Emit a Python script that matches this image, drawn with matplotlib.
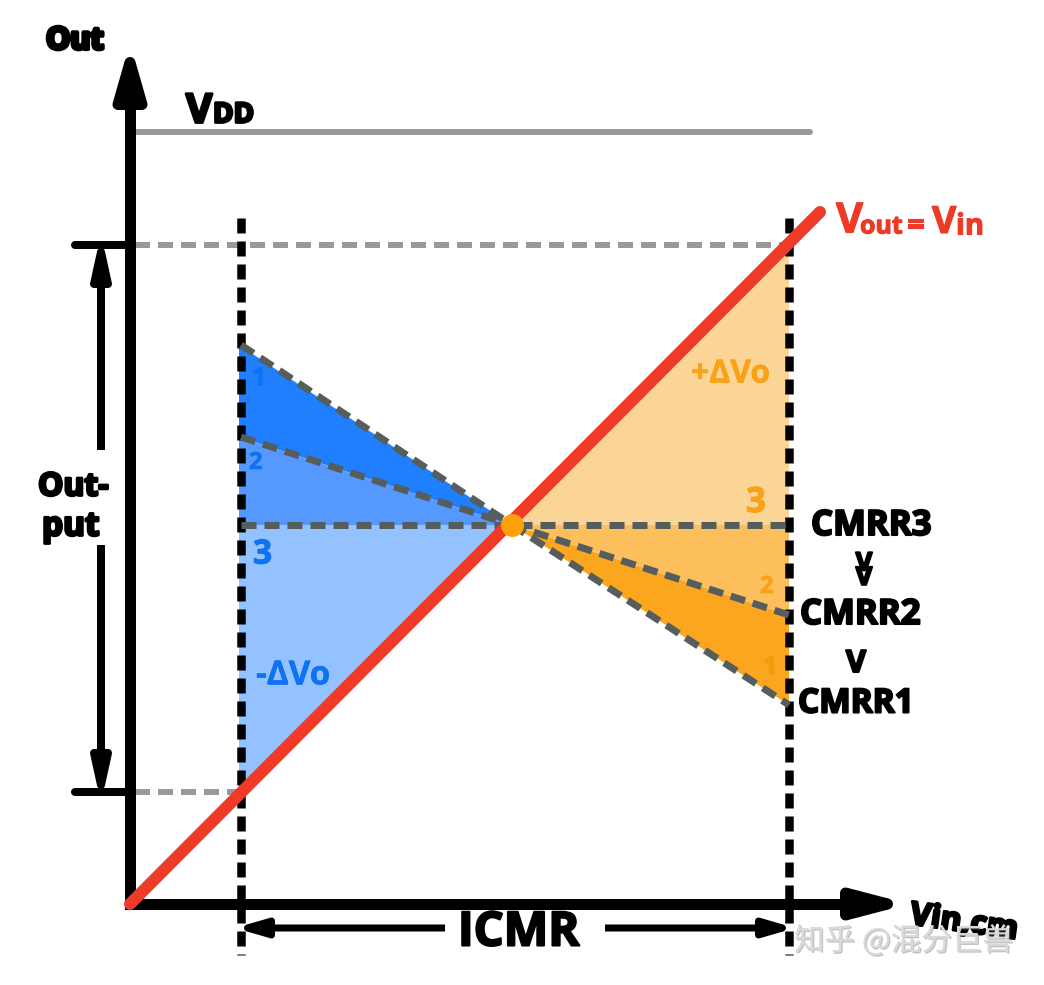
import math
import matplotlib
matplotlib.use("Agg")
import matplotlib.pyplot as plt
import matplotlib.patheffects as pe

# everything in image pixels (y goes down)
origin = (130, 904)
center = (512, 525)
icmr_x = [241, 789]
output_y = [245, 792]
vdd_y = 132
red_end = (820, 212)

# where the three CMRR lines hit the ICMR edges
left_y = [345, 437, 525]
right_y = [705, 615, 525]

blue_colors = ["#1f7fff", "#5599ff", "#94c2ff"]
orange_colors = ["#fca51f", "#fdbe5c", "#fbd596"]

BLACK = "#000000"
GRAY = "#999999"
DARK = "#555e5c"
RED = "#ee3a26"
BLUE = "#0f72f2"
ORANGE = "#f9a215"


def px(w):
    return w * 0.72


def dash(on, off, w):
    return (on / w, off / w)


def arrow(ax, start, end, lw, length, half):
    # matplotlib pulls the head back so a mitred tip lands on the point, push it out again
    sin_t = half / math.hypot(length, half)
    pull = 0.5 * lw / sin_t - 0.5 * lw
    dx, dy = end[0] - start[0], end[1] - start[1]
    dist = math.hypot(dx, dy)
    tip = (end[0] + dx / dist * pull, end[1] + dy / dist * pull)
    style = f"-|>,head_length={px(length)},head_width={px(half)}"
    ax.annotate("", xy=tip, xytext=start,
                arrowprops=dict(arrowstyle=style, mutation_scale=1, lw=px(lw), color=BLACK,
                                shrinkA=0, shrinkB=0, joinstyle="round", capstyle="butt"),
                zorder=8)


def label(ax, x, y, s, size, color=BLACK, stroke=1.5, rot=0, ha="left", **kw):
    t = ax.text(x, y, s, fontsize=size, color=color, fontweight="bold", ha=ha, va="center",
                family="Open Sans", rotation=rot, zorder=9, **kw)
    t.set_path_effects([pe.withStroke(linewidth=stroke, foreground=color)])
    return t


fig = plt.figure(figsize=(10.44, 9.85), dpi=100)
ax = fig.add_axes([0, 0, 1, 1])
ax.set_xlim(0, 1044)
ax.set_ylim(985, 0)
ax.axis("off")

# shaded wedges
left_edges = left_y + [output_y[1]]
right_edges = right_y + [output_y[0]]
for i in range(3):
    ax.fill([icmr_x[0] - 2, center[0], icmr_x[0] - 2], [left_edges[i], center[1], left_edges[i + 1]],
            color=blue_colors[i], lw=0, zorder=1)
    ax.fill([center[0], icmr_x[1], icmr_x[1]], [center[1], right_edges[i], right_edges[i + 1]],
            color=orange_colors[i], lw=0, zorder=1)

# grey guide lines
ax.plot([135, 810], [vdd_y, vdd_y], color=GRAY, lw=px(6), solid_capstyle="round", zorder=2)
ax.plot([135, icmr_x[1]], [output_y[0]] * 2, color=GRAY, lw=px(6), dashes=dash(15, 8, 6), zorder=2)
ax.plot([135, icmr_x[0]], [output_y[1]] * 2, color=GRAY, lw=px(6), dashes=dash(15, 8, 6), zorder=2)

# CMRR dashed lines
gray_dash = dash(15, 8, 7)
for y in left_y[:2]:
    ax.plot([icmr_x[0], center[0]], [y, center[1]], color=DARK, lw=px(7), dashes=gray_dash, zorder=5)
for y in right_y[:2]:
    ax.plot([center[0], icmr_x[1]], [center[1], y], color=DARK, lw=px(7), dashes=gray_dash, zorder=5)
ax.plot(icmr_x, [center[1]] * 2, color=DARK, lw=px(7), dashes=gray_dash, zorder=5)

# ICMR edges
for x in icmr_x:
    ax.plot([x, x], [218, 955], color=BLACK, lw=px(8.5), dashes=dash(15, 8, 8.5), zorder=3)

# Vout = Vin
ax.plot([origin[0], red_end[0]], [origin[1], red_end[1]], color=RED, lw=px(12),
        solid_capstyle="round", zorder=7.5)
ax.plot(center[0], center[1], "o", color="#ff9f0a", ms=px(23), mew=0, zorder=7.6)

# axes
ax.plot([origin[0], origin[0]], [origin[1], 100], color=BLACK, lw=px(11), zorder=7)
ax.plot([origin[0], 850], [origin[1], origin[1]], color=BLACK, lw=px(11), zorder=7)
arrow(ax, (origin[0], 110), (origin[0], 57), 11, 42, 12)
arrow(ax, (840, origin[1]), (893, origin[1]), 11, 42, 11)

# output swing marks
for y in output_y:
    ax.plot([75, origin[0]], [y, y], color=BLACK, lw=px(8), solid_capstyle="round", zorder=7)
arrow(ax, (101, 450), (101, output_y[0] + 3), 8, 32, 7)
arrow(ax, (101, 545), (101, output_y[1] - 3), 8, 32, 7)

# ICMR span
arrow(ax, (445, 928), (icmr_x[0] + 3, 928), 7, 24, 7)
arrow(ax, (605, 928), (icmr_x[1] - 3, 928), 7, 24, 7)

# text
label(ax, 46, 41, "Out", 22, stroke=3)
label(ax, 186, 112, "V", 29, stroke=2)
label(ax, 213, 115, "DD", 20, stroke=2)
label(ax, 836, 222, "V", 30, color=RED, stroke=0.8)
label(ax, 860, 227, "out", 18, color=RED, stroke=0.8)
label(ax, 907, 226, "=", 22, color=RED, stroke=0.8)
label(ax, 932, 223, "V", 27, color=RED, stroke=0.8)
label(ax, 956, 227, "in", 21, color=RED, stroke=0.8)
label(ax, 38, 487, "Out-", 23, stroke=2)
label(ax, 42, 527, "put", 24, stroke=2)
label(ax, 811, 526, "CMRR3", 25, stroke=1.5)
label(ax, 864, 571, "V\nV", 18, stroke=1.5, ha="center", linespacing=0.45, multialignment="center")
label(ax, 800, 615, "CMRR2", 25, stroke=1.5)
label(ax, 856, 664, "V", 22, stroke=1.5, ha="center")
label(ax, 798, 704, "CMRR1", 24, stroke=1.5)
label(ax, 458, 933, "ICMR", 34, stroke=1.5)
label(ax, 908, 923, "Vin,cm", 23, stroke=2, rot=-8)

label(ax, 252, 379, "1", 18, color=BLUE, stroke=0.5)
label(ax, 249, 463, "2", 17, color=BLUE, stroke=0.5)
label(ax, 253, 555, "3", 24, color=BLUE, stroke=0.8)
label(ax, 256, 676, "-ΔVo", 24, color=BLUE, stroke=0.3)
label(ax, 691, 374, "+ΔVo", 23, color=ORANGE, stroke=0.3)
label(ax, 746, 503, "3", 25, color=ORANGE, stroke=0.8)
label(ax, 760, 587, "2", 17, color=ORANGE, stroke=0.5)
label(ax, 763, 668, "1", 18, color="#f59a08", stroke=0.5)

# watermark
wm = ax.text(794, 941, "知乎 @混分巨兽", fontsize=22, color="#d9d9d9", va="center",
             family=["Noto Sans CJK SC", "DejaVu Sans"], zorder=10)
wm.set_path_effects([pe.withSimplePatchShadow(offset=(1, -1), shadow_rgbFace="#888888", alpha=0.5), pe.Normal()])

fig.savefig("out.png", dpi=100)
